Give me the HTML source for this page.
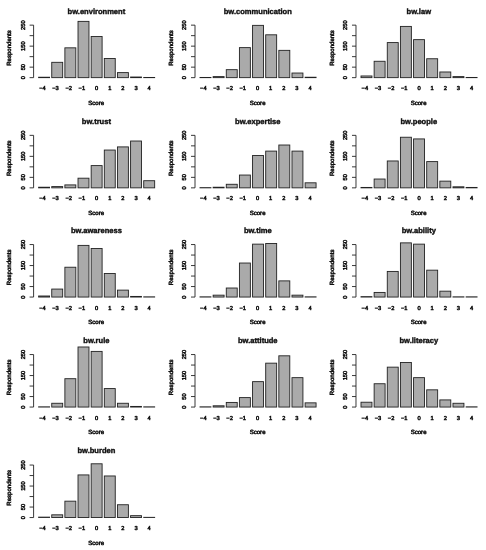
<!DOCTYPE html>
<html><head><meta charset="utf-8"><title>Histograms</title>
<style>html,body{margin:0;padding:0;background:#fff}svg{display:block;filter:blur(0.35px)}text{text-rendering:geometricPrecision;font-family:"Liberation Sans",Arial,Helvetica,sans-serif;fill:#111;stroke:#111;stroke-width:0.5px}text.t{stroke-width:0.4px}</style></head><body>
<svg width="486" height="550" viewBox="0 0 486 550">
<rect width="486" height="550" fill="#ffffff"/>
<g transform="translate(0.00,0.10)">
<text x="96.40" y="14.40" font-size="7.55" class="t" font-weight="bold" text-anchor="middle">bw.environment</text>
<rect x="38.60" y="77.13" width="10.95" height="0.42" fill="#aaaaaa" stroke="#222" stroke-width="0.90"/>
<rect x="51.74" y="62.22" width="10.95" height="15.33" fill="#aaaaaa" stroke="#222" stroke-width="0.90"/>
<rect x="64.88" y="47.73" width="10.95" height="29.82" fill="#aaaaaa" stroke="#222" stroke-width="0.90"/>
<rect x="78.02" y="21.27" width="10.95" height="56.28" fill="#aaaaaa" stroke="#222" stroke-width="0.90"/>
<rect x="91.16" y="36.39" width="10.95" height="41.16" fill="#aaaaaa" stroke="#222" stroke-width="0.90"/>
<rect x="104.30" y="58.44" width="10.95" height="19.11" fill="#aaaaaa" stroke="#222" stroke-width="0.90"/>
<rect x="117.44" y="72.51" width="10.95" height="5.04" fill="#aaaaaa" stroke="#222" stroke-width="0.90"/>
<rect x="130.58" y="76.92" width="10.95" height="0.63" fill="#aaaaaa" stroke="#222" stroke-width="0.90"/>
<rect x="143.72" y="77.34" width="10.95" height="0.21" fill="#aaaaaa" stroke="#222" stroke-width="0.90"/>
<path d="M33.60 77.55V25.05M33.60 77.55h-4.00M33.60 67.05h-4.00M33.60 56.55h-4.00M33.60 46.05h-4.00M33.60 35.55h-4.00M33.60 25.05h-4.00" fill="none" stroke="#222" stroke-width="0.90"/>
<text transform="translate(24.90,77.55) rotate(-90)" font-size="5.70" text-anchor="middle">0</text>
<text transform="translate(24.90,67.05) rotate(-90)" font-size="5.70" text-anchor="middle">50</text>
<text transform="translate(24.90,46.05) rotate(-90)" font-size="5.70" text-anchor="middle">150</text>
<text transform="translate(24.90,25.05) rotate(-90)" font-size="5.70" text-anchor="middle">250</text>
<text transform="translate(11.20,47.90) rotate(-90)" font-size="6.05" text-anchor="middle">Respondents</text>
<text x="45.66" y="90.30" font-size="5.70" text-anchor="end">−4</text>
<text x="58.80" y="90.30" font-size="5.70" text-anchor="end">−3</text>
<text x="71.94" y="90.30" font-size="5.70" text-anchor="end">−2</text>
<text x="85.08" y="90.30" font-size="5.70" text-anchor="end">−1</text>
<text x="96.63" y="90.30" font-size="5.70" text-anchor="middle">0</text>
<text x="109.78" y="90.30" font-size="5.70" text-anchor="middle">1</text>
<text x="122.91" y="90.30" font-size="5.70" text-anchor="middle">2</text>
<text x="136.06" y="90.30" font-size="5.70" text-anchor="middle">3</text>
<text x="149.19" y="90.30" font-size="5.70" text-anchor="middle">4</text>
<text x="96.20" y="105.10" font-size="6.05" text-anchor="middle">Score</text>
</g>
<g transform="translate(161.40,0.10)">
<text x="96.40" y="14.40" font-size="7.55" class="t" font-weight="bold" text-anchor="middle">bw.communication</text>
<rect x="38.60" y="77.34" width="10.95" height="0.21" fill="#aaaaaa" stroke="#222" stroke-width="0.90"/>
<rect x="51.74" y="76.50" width="10.95" height="1.05" fill="#aaaaaa" stroke="#222" stroke-width="0.90"/>
<rect x="64.88" y="69.57" width="10.95" height="7.98" fill="#aaaaaa" stroke="#222" stroke-width="0.90"/>
<rect x="78.02" y="47.52" width="10.95" height="30.03" fill="#aaaaaa" stroke="#222" stroke-width="0.90"/>
<rect x="91.16" y="25.26" width="10.95" height="52.29" fill="#aaaaaa" stroke="#222" stroke-width="0.90"/>
<rect x="104.30" y="34.71" width="10.95" height="42.84" fill="#aaaaaa" stroke="#222" stroke-width="0.90"/>
<rect x="117.44" y="50.25" width="10.95" height="27.30" fill="#aaaaaa" stroke="#222" stroke-width="0.90"/>
<rect x="130.58" y="72.93" width="10.95" height="4.62" fill="#aaaaaa" stroke="#222" stroke-width="0.90"/>
<rect x="143.72" y="77.13" width="10.95" height="0.42" fill="#aaaaaa" stroke="#222" stroke-width="0.90"/>
<path d="M33.60 77.55V25.05M33.60 77.55h-4.00M33.60 67.05h-4.00M33.60 56.55h-4.00M33.60 46.05h-4.00M33.60 35.55h-4.00M33.60 25.05h-4.00" fill="none" stroke="#222" stroke-width="0.90"/>
<text transform="translate(24.90,77.55) rotate(-90)" font-size="5.70" text-anchor="middle">0</text>
<text transform="translate(24.90,67.05) rotate(-90)" font-size="5.70" text-anchor="middle">50</text>
<text transform="translate(24.90,46.05) rotate(-90)" font-size="5.70" text-anchor="middle">150</text>
<text transform="translate(24.90,25.05) rotate(-90)" font-size="5.70" text-anchor="middle">250</text>
<text transform="translate(11.20,47.90) rotate(-90)" font-size="6.05" text-anchor="middle">Respondents</text>
<text x="45.16" y="90.30" font-size="5.70" text-anchor="end">−4</text>
<text x="58.30" y="90.30" font-size="5.70" text-anchor="end">−3</text>
<text x="71.44" y="90.30" font-size="5.70" text-anchor="end">−2</text>
<text x="84.58" y="90.30" font-size="5.70" text-anchor="end">−1</text>
<text x="96.13" y="90.30" font-size="5.70" text-anchor="middle">0</text>
<text x="109.28" y="90.30" font-size="5.70" text-anchor="middle">1</text>
<text x="122.41" y="90.30" font-size="5.70" text-anchor="middle">2</text>
<text x="135.56" y="90.30" font-size="5.70" text-anchor="middle">3</text>
<text x="148.69" y="90.30" font-size="5.70" text-anchor="middle">4</text>
<text x="96.20" y="105.10" font-size="6.05" text-anchor="middle">Score</text>
</g>
<g transform="translate(322.40,0.10)">
<text x="96.40" y="14.40" font-size="7.55" class="t" font-weight="bold" text-anchor="middle">bw.law</text>
<rect x="38.60" y="75.87" width="10.95" height="1.68" fill="#aaaaaa" stroke="#222" stroke-width="0.90"/>
<rect x="51.74" y="61.17" width="10.95" height="16.38" fill="#aaaaaa" stroke="#222" stroke-width="0.90"/>
<rect x="64.88" y="42.48" width="10.95" height="35.07" fill="#aaaaaa" stroke="#222" stroke-width="0.90"/>
<rect x="78.02" y="26.31" width="10.95" height="51.24" fill="#aaaaaa" stroke="#222" stroke-width="0.90"/>
<rect x="91.16" y="39.54" width="10.95" height="38.01" fill="#aaaaaa" stroke="#222" stroke-width="0.90"/>
<rect x="104.30" y="58.65" width="10.95" height="18.90" fill="#aaaaaa" stroke="#222" stroke-width="0.90"/>
<rect x="117.44" y="71.88" width="10.95" height="5.67" fill="#aaaaaa" stroke="#222" stroke-width="0.90"/>
<rect x="130.58" y="76.50" width="10.95" height="1.05" fill="#aaaaaa" stroke="#222" stroke-width="0.90"/>
<rect x="143.72" y="77.34" width="10.95" height="0.21" fill="#aaaaaa" stroke="#222" stroke-width="0.90"/>
<path d="M33.60 77.55V25.05M33.60 77.55h-4.00M33.60 67.05h-4.00M33.60 56.55h-4.00M33.60 46.05h-4.00M33.60 35.55h-4.00M33.60 25.05h-4.00" fill="none" stroke="#222" stroke-width="0.90"/>
<text transform="translate(24.90,77.55) rotate(-90)" font-size="5.70" text-anchor="middle">0</text>
<text transform="translate(24.90,67.05) rotate(-90)" font-size="5.70" text-anchor="middle">50</text>
<text transform="translate(24.90,46.05) rotate(-90)" font-size="5.70" text-anchor="middle">150</text>
<text transform="translate(24.90,25.05) rotate(-90)" font-size="5.70" text-anchor="middle">250</text>
<text transform="translate(11.20,47.90) rotate(-90)" font-size="6.05" text-anchor="middle">Respondents</text>
<text x="45.66" y="90.30" font-size="5.70" text-anchor="end">−4</text>
<text x="58.80" y="90.30" font-size="5.70" text-anchor="end">−3</text>
<text x="71.94" y="90.30" font-size="5.70" text-anchor="end">−2</text>
<text x="85.08" y="90.30" font-size="5.70" text-anchor="end">−1</text>
<text x="96.63" y="90.30" font-size="5.70" text-anchor="middle">0</text>
<text x="109.78" y="90.30" font-size="5.70" text-anchor="middle">1</text>
<text x="122.91" y="90.30" font-size="5.70" text-anchor="middle">2</text>
<text x="136.06" y="90.30" font-size="5.70" text-anchor="middle">3</text>
<text x="149.19" y="90.30" font-size="5.70" text-anchor="middle">4</text>
<text x="96.20" y="105.10" font-size="6.05" text-anchor="middle">Score</text>
</g>
<g transform="translate(0.00,110.30)">
<text x="96.40" y="13.25" font-size="7.55" class="t" font-weight="bold" text-anchor="middle">bw.trust</text>
<rect x="38.60" y="76.92" width="10.95" height="0.63" fill="#aaaaaa" stroke="#222" stroke-width="0.90"/>
<rect x="51.74" y="76.29" width="10.95" height="1.26" fill="#aaaaaa" stroke="#222" stroke-width="0.90"/>
<rect x="64.88" y="74.61" width="10.95" height="2.94" fill="#aaaaaa" stroke="#222" stroke-width="0.90"/>
<rect x="78.02" y="67.89" width="10.95" height="9.66" fill="#aaaaaa" stroke="#222" stroke-width="0.90"/>
<rect x="91.16" y="55.29" width="10.95" height="22.26" fill="#aaaaaa" stroke="#222" stroke-width="0.90"/>
<rect x="104.30" y="39.75" width="10.95" height="37.80" fill="#aaaaaa" stroke="#222" stroke-width="0.90"/>
<rect x="117.44" y="36.60" width="10.95" height="40.95" fill="#aaaaaa" stroke="#222" stroke-width="0.90"/>
<rect x="130.58" y="30.72" width="10.95" height="46.83" fill="#aaaaaa" stroke="#222" stroke-width="0.90"/>
<rect x="143.72" y="70.41" width="10.95" height="7.14" fill="#aaaaaa" stroke="#222" stroke-width="0.90"/>
<path d="M33.60 77.55V25.05M33.60 77.55h-4.00M33.60 67.05h-4.00M33.60 56.55h-4.00M33.60 46.05h-4.00M33.60 35.55h-4.00M33.60 25.05h-4.00" fill="none" stroke="#222" stroke-width="0.90"/>
<text transform="translate(24.90,77.55) rotate(-90)" font-size="5.70" text-anchor="middle">0</text>
<text transform="translate(24.90,67.05) rotate(-90)" font-size="5.70" text-anchor="middle">50</text>
<text transform="translate(24.90,46.05) rotate(-90)" font-size="5.70" text-anchor="middle">150</text>
<text transform="translate(24.90,25.05) rotate(-90)" font-size="5.70" text-anchor="middle">250</text>
<text transform="translate(11.20,47.90) rotate(-90)" font-size="6.05" text-anchor="middle">Respondents</text>
<text x="45.66" y="90.10" font-size="5.70" text-anchor="end">−4</text>
<text x="58.80" y="90.10" font-size="5.70" text-anchor="end">−3</text>
<text x="71.94" y="90.10" font-size="5.70" text-anchor="end">−2</text>
<text x="85.08" y="90.10" font-size="5.70" text-anchor="end">−1</text>
<text x="96.63" y="90.10" font-size="5.70" text-anchor="middle">0</text>
<text x="109.78" y="90.10" font-size="5.70" text-anchor="middle">1</text>
<text x="122.91" y="90.10" font-size="5.70" text-anchor="middle">2</text>
<text x="136.06" y="90.10" font-size="5.70" text-anchor="middle">3</text>
<text x="149.19" y="90.10" font-size="5.70" text-anchor="middle">4</text>
<text x="96.20" y="104.30" font-size="6.05" text-anchor="middle">Score</text>
</g>
<g transform="translate(161.40,110.30)">
<text x="96.40" y="13.25" font-size="7.55" class="t" font-weight="bold" text-anchor="middle">bw.expertise</text>
<rect x="38.60" y="77.34" width="10.95" height="0.21" fill="#aaaaaa" stroke="#222" stroke-width="0.90"/>
<rect x="51.74" y="76.92" width="10.95" height="0.63" fill="#aaaaaa" stroke="#222" stroke-width="0.90"/>
<rect x="64.88" y="73.98" width="10.95" height="3.57" fill="#aaaaaa" stroke="#222" stroke-width="0.90"/>
<rect x="78.02" y="64.74" width="10.95" height="12.81" fill="#aaaaaa" stroke="#222" stroke-width="0.90"/>
<rect x="91.16" y="45.21" width="10.95" height="32.34" fill="#aaaaaa" stroke="#222" stroke-width="0.90"/>
<rect x="104.30" y="40.80" width="10.95" height="36.75" fill="#aaaaaa" stroke="#222" stroke-width="0.90"/>
<rect x="117.44" y="34.71" width="10.95" height="42.84" fill="#aaaaaa" stroke="#222" stroke-width="0.90"/>
<rect x="130.58" y="40.80" width="10.95" height="36.75" fill="#aaaaaa" stroke="#222" stroke-width="0.90"/>
<rect x="143.72" y="72.51" width="10.95" height="5.04" fill="#aaaaaa" stroke="#222" stroke-width="0.90"/>
<path d="M33.60 77.55V25.05M33.60 77.55h-4.00M33.60 67.05h-4.00M33.60 56.55h-4.00M33.60 46.05h-4.00M33.60 35.55h-4.00M33.60 25.05h-4.00" fill="none" stroke="#222" stroke-width="0.90"/>
<text transform="translate(24.90,77.55) rotate(-90)" font-size="5.70" text-anchor="middle">0</text>
<text transform="translate(24.90,67.05) rotate(-90)" font-size="5.70" text-anchor="middle">50</text>
<text transform="translate(24.90,46.05) rotate(-90)" font-size="5.70" text-anchor="middle">150</text>
<text transform="translate(24.90,25.05) rotate(-90)" font-size="5.70" text-anchor="middle">250</text>
<text transform="translate(11.20,47.90) rotate(-90)" font-size="6.05" text-anchor="middle">Respondents</text>
<text x="45.16" y="90.10" font-size="5.70" text-anchor="end">−4</text>
<text x="58.30" y="90.10" font-size="5.70" text-anchor="end">−3</text>
<text x="71.44" y="90.10" font-size="5.70" text-anchor="end">−2</text>
<text x="84.58" y="90.10" font-size="5.70" text-anchor="end">−1</text>
<text x="96.13" y="90.10" font-size="5.70" text-anchor="middle">0</text>
<text x="109.28" y="90.10" font-size="5.70" text-anchor="middle">1</text>
<text x="122.41" y="90.10" font-size="5.70" text-anchor="middle">2</text>
<text x="135.56" y="90.10" font-size="5.70" text-anchor="middle">3</text>
<text x="148.69" y="90.10" font-size="5.70" text-anchor="middle">4</text>
<text x="96.20" y="104.30" font-size="6.05" text-anchor="middle">Score</text>
</g>
<g transform="translate(322.40,110.30)">
<text x="96.40" y="13.25" font-size="7.55" class="t" font-weight="bold" text-anchor="middle">bw.people</text>
<rect x="38.60" y="77.13" width="10.95" height="0.42" fill="#aaaaaa" stroke="#222" stroke-width="0.90"/>
<rect x="51.74" y="68.73" width="10.95" height="8.82" fill="#aaaaaa" stroke="#222" stroke-width="0.90"/>
<rect x="64.88" y="50.67" width="10.95" height="26.88" fill="#aaaaaa" stroke="#222" stroke-width="0.90"/>
<rect x="78.02" y="26.94" width="10.95" height="50.61" fill="#aaaaaa" stroke="#222" stroke-width="0.90"/>
<rect x="91.16" y="28.62" width="10.95" height="48.93" fill="#aaaaaa" stroke="#222" stroke-width="0.90"/>
<rect x="104.30" y="51.30" width="10.95" height="26.25" fill="#aaaaaa" stroke="#222" stroke-width="0.90"/>
<rect x="117.44" y="70.83" width="10.95" height="6.72" fill="#aaaaaa" stroke="#222" stroke-width="0.90"/>
<rect x="130.58" y="76.50" width="10.95" height="1.05" fill="#aaaaaa" stroke="#222" stroke-width="0.90"/>
<rect x="143.72" y="77.13" width="10.95" height="0.42" fill="#aaaaaa" stroke="#222" stroke-width="0.90"/>
<path d="M33.60 77.55V25.05M33.60 77.55h-4.00M33.60 67.05h-4.00M33.60 56.55h-4.00M33.60 46.05h-4.00M33.60 35.55h-4.00M33.60 25.05h-4.00" fill="none" stroke="#222" stroke-width="0.90"/>
<text transform="translate(24.90,77.55) rotate(-90)" font-size="5.70" text-anchor="middle">0</text>
<text transform="translate(24.90,67.05) rotate(-90)" font-size="5.70" text-anchor="middle">50</text>
<text transform="translate(24.90,46.05) rotate(-90)" font-size="5.70" text-anchor="middle">150</text>
<text transform="translate(24.90,25.05) rotate(-90)" font-size="5.70" text-anchor="middle">250</text>
<text transform="translate(11.20,47.90) rotate(-90)" font-size="6.05" text-anchor="middle">Respondents</text>
<text x="45.66" y="90.10" font-size="5.70" text-anchor="end">−4</text>
<text x="58.80" y="90.10" font-size="5.70" text-anchor="end">−3</text>
<text x="71.94" y="90.10" font-size="5.70" text-anchor="end">−2</text>
<text x="85.08" y="90.10" font-size="5.70" text-anchor="end">−1</text>
<text x="96.63" y="90.10" font-size="5.70" text-anchor="middle">0</text>
<text x="109.78" y="90.10" font-size="5.70" text-anchor="middle">1</text>
<text x="122.91" y="90.10" font-size="5.70" text-anchor="middle">2</text>
<text x="136.06" y="90.10" font-size="5.70" text-anchor="middle">3</text>
<text x="149.19" y="90.10" font-size="5.70" text-anchor="middle">4</text>
<text x="96.20" y="104.30" font-size="6.05" text-anchor="middle">Score</text>
</g>
<g transform="translate(0.00,219.50)">
<text x="96.40" y="13.70" font-size="7.55" class="t" font-weight="bold" text-anchor="middle">bw.awareness</text>
<rect x="38.60" y="76.50" width="10.95" height="1.05" fill="#aaaaaa" stroke="#222" stroke-width="0.90"/>
<rect x="51.74" y="69.57" width="10.95" height="7.98" fill="#aaaaaa" stroke="#222" stroke-width="0.90"/>
<rect x="64.88" y="47.73" width="10.95" height="29.82" fill="#aaaaaa" stroke="#222" stroke-width="0.90"/>
<rect x="78.02" y="25.89" width="10.95" height="51.66" fill="#aaaaaa" stroke="#222" stroke-width="0.90"/>
<rect x="91.16" y="29.04" width="10.95" height="48.51" fill="#aaaaaa" stroke="#222" stroke-width="0.90"/>
<rect x="104.30" y="54.03" width="10.95" height="23.52" fill="#aaaaaa" stroke="#222" stroke-width="0.90"/>
<rect x="117.44" y="70.62" width="10.95" height="6.93" fill="#aaaaaa" stroke="#222" stroke-width="0.90"/>
<rect x="130.58" y="76.92" width="10.95" height="0.63" fill="#aaaaaa" stroke="#222" stroke-width="0.90"/>
<rect x="143.72" y="77.34" width="10.95" height="0.21" fill="#aaaaaa" stroke="#222" stroke-width="0.90"/>
<path d="M33.60 77.55V25.05M33.60 77.55h-4.00M33.60 67.05h-4.00M33.60 56.55h-4.00M33.60 46.05h-4.00M33.60 35.55h-4.00M33.60 25.05h-4.00" fill="none" stroke="#222" stroke-width="0.90"/>
<text transform="translate(24.90,77.55) rotate(-90)" font-size="5.70" text-anchor="middle">0</text>
<text transform="translate(24.90,67.05) rotate(-90)" font-size="5.70" text-anchor="middle">50</text>
<text transform="translate(24.90,46.05) rotate(-90)" font-size="5.70" text-anchor="middle">150</text>
<text transform="translate(24.90,25.05) rotate(-90)" font-size="5.70" text-anchor="middle">250</text>
<text transform="translate(11.20,47.90) rotate(-90)" font-size="6.05" text-anchor="middle">Respondents</text>
<text x="45.66" y="90.60" font-size="5.70" text-anchor="end">−4</text>
<text x="58.80" y="90.60" font-size="5.70" text-anchor="end">−3</text>
<text x="71.94" y="90.60" font-size="5.70" text-anchor="end">−2</text>
<text x="85.08" y="90.60" font-size="5.70" text-anchor="end">−1</text>
<text x="96.63" y="90.60" font-size="5.70" text-anchor="middle">0</text>
<text x="109.78" y="90.60" font-size="5.70" text-anchor="middle">1</text>
<text x="122.91" y="90.60" font-size="5.70" text-anchor="middle">2</text>
<text x="136.06" y="90.60" font-size="5.70" text-anchor="middle">3</text>
<text x="149.19" y="90.60" font-size="5.70" text-anchor="middle">4</text>
<text x="96.20" y="104.50" font-size="6.05" text-anchor="middle">Score</text>
</g>
<g transform="translate(161.40,219.50)">
<text x="96.40" y="13.70" font-size="7.55" class="t" font-weight="bold" text-anchor="middle">bw.time</text>
<rect x="38.60" y="77.34" width="10.95" height="0.21" fill="#aaaaaa" stroke="#222" stroke-width="0.90"/>
<rect x="51.74" y="75.66" width="10.95" height="1.89" fill="#aaaaaa" stroke="#222" stroke-width="0.90"/>
<rect x="64.88" y="68.52" width="10.95" height="9.03" fill="#aaaaaa" stroke="#222" stroke-width="0.90"/>
<rect x="78.02" y="43.53" width="10.95" height="34.02" fill="#aaaaaa" stroke="#222" stroke-width="0.90"/>
<rect x="91.16" y="24.63" width="10.95" height="52.92" fill="#aaaaaa" stroke="#222" stroke-width="0.90"/>
<rect x="104.30" y="24.00" width="10.95" height="53.55" fill="#aaaaaa" stroke="#222" stroke-width="0.90"/>
<rect x="117.44" y="61.38" width="10.95" height="16.17" fill="#aaaaaa" stroke="#222" stroke-width="0.90"/>
<rect x="130.58" y="75.66" width="10.95" height="1.89" fill="#aaaaaa" stroke="#222" stroke-width="0.90"/>
<rect x="143.72" y="77.34" width="10.95" height="0.21" fill="#aaaaaa" stroke="#222" stroke-width="0.90"/>
<path d="M33.60 77.55V25.05M33.60 77.55h-4.00M33.60 67.05h-4.00M33.60 56.55h-4.00M33.60 46.05h-4.00M33.60 35.55h-4.00M33.60 25.05h-4.00" fill="none" stroke="#222" stroke-width="0.90"/>
<text transform="translate(24.90,77.55) rotate(-90)" font-size="5.70" text-anchor="middle">0</text>
<text transform="translate(24.90,67.05) rotate(-90)" font-size="5.70" text-anchor="middle">50</text>
<text transform="translate(24.90,46.05) rotate(-90)" font-size="5.70" text-anchor="middle">150</text>
<text transform="translate(24.90,25.05) rotate(-90)" font-size="5.70" text-anchor="middle">250</text>
<text transform="translate(11.20,47.90) rotate(-90)" font-size="6.05" text-anchor="middle">Respondents</text>
<text x="45.16" y="90.60" font-size="5.70" text-anchor="end">−4</text>
<text x="58.30" y="90.60" font-size="5.70" text-anchor="end">−3</text>
<text x="71.44" y="90.60" font-size="5.70" text-anchor="end">−2</text>
<text x="84.58" y="90.60" font-size="5.70" text-anchor="end">−1</text>
<text x="96.13" y="90.60" font-size="5.70" text-anchor="middle">0</text>
<text x="109.28" y="90.60" font-size="5.70" text-anchor="middle">1</text>
<text x="122.41" y="90.60" font-size="5.70" text-anchor="middle">2</text>
<text x="135.56" y="90.60" font-size="5.70" text-anchor="middle">3</text>
<text x="148.69" y="90.60" font-size="5.70" text-anchor="middle">4</text>
<text x="96.20" y="104.50" font-size="6.05" text-anchor="middle">Score</text>
</g>
<g transform="translate(322.40,219.50)">
<text x="96.40" y="13.70" font-size="7.55" class="t" font-weight="bold" text-anchor="middle">bw.ability</text>
<rect x="38.60" y="77.13" width="10.95" height="0.42" fill="#aaaaaa" stroke="#222" stroke-width="0.90"/>
<rect x="51.74" y="72.93" width="10.95" height="4.62" fill="#aaaaaa" stroke="#222" stroke-width="0.90"/>
<rect x="64.88" y="51.93" width="10.95" height="25.62" fill="#aaaaaa" stroke="#222" stroke-width="0.90"/>
<rect x="78.02" y="23.37" width="10.95" height="54.18" fill="#aaaaaa" stroke="#222" stroke-width="0.90"/>
<rect x="91.16" y="24.63" width="10.95" height="52.92" fill="#aaaaaa" stroke="#222" stroke-width="0.90"/>
<rect x="104.30" y="50.67" width="10.95" height="26.88" fill="#aaaaaa" stroke="#222" stroke-width="0.90"/>
<rect x="117.44" y="71.67" width="10.95" height="5.88" fill="#aaaaaa" stroke="#222" stroke-width="0.90"/>
<rect x="130.58" y="77.34" width="10.95" height="0.21" fill="#aaaaaa" stroke="#222" stroke-width="0.90"/>
<rect x="143.72" y="77.34" width="10.95" height="0.21" fill="#aaaaaa" stroke="#222" stroke-width="0.90"/>
<path d="M33.60 77.55V25.05M33.60 77.55h-4.00M33.60 67.05h-4.00M33.60 56.55h-4.00M33.60 46.05h-4.00M33.60 35.55h-4.00M33.60 25.05h-4.00" fill="none" stroke="#222" stroke-width="0.90"/>
<text transform="translate(24.90,77.55) rotate(-90)" font-size="5.70" text-anchor="middle">0</text>
<text transform="translate(24.90,67.05) rotate(-90)" font-size="5.70" text-anchor="middle">50</text>
<text transform="translate(24.90,46.05) rotate(-90)" font-size="5.70" text-anchor="middle">150</text>
<text transform="translate(24.90,25.05) rotate(-90)" font-size="5.70" text-anchor="middle">250</text>
<text transform="translate(11.20,47.90) rotate(-90)" font-size="6.05" text-anchor="middle">Respondents</text>
<text x="45.66" y="90.60" font-size="5.70" text-anchor="end">−4</text>
<text x="58.80" y="90.60" font-size="5.70" text-anchor="end">−3</text>
<text x="71.94" y="90.60" font-size="5.70" text-anchor="end">−2</text>
<text x="85.08" y="90.60" font-size="5.70" text-anchor="end">−1</text>
<text x="96.63" y="90.60" font-size="5.70" text-anchor="middle">0</text>
<text x="109.78" y="90.60" font-size="5.70" text-anchor="middle">1</text>
<text x="122.91" y="90.60" font-size="5.70" text-anchor="middle">2</text>
<text x="136.06" y="90.60" font-size="5.70" text-anchor="middle">3</text>
<text x="149.19" y="90.60" font-size="5.70" text-anchor="middle">4</text>
<text x="96.20" y="104.50" font-size="6.05" text-anchor="middle">Score</text>
</g>
<g transform="translate(0.00,329.50)">
<text x="96.40" y="13.90" font-size="7.55" class="t" font-weight="bold" text-anchor="middle">bw.rule</text>
<rect x="38.60" y="77.34" width="10.95" height="0.21" fill="#aaaaaa" stroke="#222" stroke-width="0.90"/>
<rect x="51.74" y="73.77" width="10.95" height="3.78" fill="#aaaaaa" stroke="#222" stroke-width="0.90"/>
<rect x="64.88" y="49.20" width="10.95" height="28.35" fill="#aaaaaa" stroke="#222" stroke-width="0.90"/>
<rect x="78.02" y="17.49" width="10.95" height="60.06" fill="#aaaaaa" stroke="#222" stroke-width="0.90"/>
<rect x="91.16" y="21.90" width="10.95" height="55.65" fill="#aaaaaa" stroke="#222" stroke-width="0.90"/>
<rect x="104.30" y="59.07" width="10.95" height="18.48" fill="#aaaaaa" stroke="#222" stroke-width="0.90"/>
<rect x="117.44" y="73.77" width="10.95" height="3.78" fill="#aaaaaa" stroke="#222" stroke-width="0.90"/>
<rect x="130.58" y="76.92" width="10.95" height="0.63" fill="#aaaaaa" stroke="#222" stroke-width="0.90"/>
<rect x="143.72" y="77.34" width="10.95" height="0.21" fill="#aaaaaa" stroke="#222" stroke-width="0.90"/>
<path d="M33.60 77.55V25.05M33.60 77.55h-4.00M33.60 67.05h-4.00M33.60 56.55h-4.00M33.60 46.05h-4.00M33.60 35.55h-4.00M33.60 25.05h-4.00" fill="none" stroke="#222" stroke-width="0.90"/>
<text transform="translate(24.90,77.55) rotate(-90)" font-size="5.70" text-anchor="middle">0</text>
<text transform="translate(24.90,67.05) rotate(-90)" font-size="5.70" text-anchor="middle">50</text>
<text transform="translate(24.90,46.05) rotate(-90)" font-size="5.70" text-anchor="middle">150</text>
<text transform="translate(24.90,25.05) rotate(-90)" font-size="5.70" text-anchor="middle">250</text>
<text transform="translate(11.20,47.90) rotate(-90)" font-size="6.05" text-anchor="middle">Respondents</text>
<text x="45.66" y="90.75" font-size="5.70" text-anchor="end">−4</text>
<text x="58.80" y="90.75" font-size="5.70" text-anchor="end">−3</text>
<text x="71.94" y="90.75" font-size="5.70" text-anchor="end">−2</text>
<text x="85.08" y="90.75" font-size="5.70" text-anchor="end">−1</text>
<text x="96.63" y="90.75" font-size="5.70" text-anchor="middle">0</text>
<text x="109.78" y="90.75" font-size="5.70" text-anchor="middle">1</text>
<text x="122.91" y="90.75" font-size="5.70" text-anchor="middle">2</text>
<text x="136.06" y="90.75" font-size="5.70" text-anchor="middle">3</text>
<text x="149.19" y="90.75" font-size="5.70" text-anchor="middle">4</text>
<text x="96.20" y="104.85" font-size="6.05" text-anchor="middle">Score</text>
</g>
<g transform="translate(161.40,329.50)">
<text x="96.40" y="13.90" font-size="7.55" class="t" font-weight="bold" text-anchor="middle">bw.attitude</text>
<rect x="38.60" y="77.34" width="10.95" height="0.21" fill="#aaaaaa" stroke="#222" stroke-width="0.90"/>
<rect x="51.74" y="76.29" width="10.95" height="1.26" fill="#aaaaaa" stroke="#222" stroke-width="0.90"/>
<rect x="64.88" y="72.93" width="10.95" height="4.62" fill="#aaaaaa" stroke="#222" stroke-width="0.90"/>
<rect x="78.02" y="68.10" width="10.95" height="9.45" fill="#aaaaaa" stroke="#222" stroke-width="0.90"/>
<rect x="91.16" y="52.14" width="10.95" height="25.41" fill="#aaaaaa" stroke="#222" stroke-width="0.90"/>
<rect x="104.30" y="33.66" width="10.95" height="43.89" fill="#aaaaaa" stroke="#222" stroke-width="0.90"/>
<rect x="117.44" y="26.31" width="10.95" height="51.24" fill="#aaaaaa" stroke="#222" stroke-width="0.90"/>
<rect x="130.58" y="48.15" width="10.95" height="29.40" fill="#aaaaaa" stroke="#222" stroke-width="0.90"/>
<rect x="143.72" y="73.35" width="10.95" height="4.20" fill="#aaaaaa" stroke="#222" stroke-width="0.90"/>
<path d="M33.60 77.55V25.05M33.60 77.55h-4.00M33.60 67.05h-4.00M33.60 56.55h-4.00M33.60 46.05h-4.00M33.60 35.55h-4.00M33.60 25.05h-4.00" fill="none" stroke="#222" stroke-width="0.90"/>
<text transform="translate(24.90,77.55) rotate(-90)" font-size="5.70" text-anchor="middle">0</text>
<text transform="translate(24.90,67.05) rotate(-90)" font-size="5.70" text-anchor="middle">50</text>
<text transform="translate(24.90,46.05) rotate(-90)" font-size="5.70" text-anchor="middle">150</text>
<text transform="translate(24.90,25.05) rotate(-90)" font-size="5.70" text-anchor="middle">250</text>
<text transform="translate(11.20,47.90) rotate(-90)" font-size="6.05" text-anchor="middle">Respondents</text>
<text x="45.16" y="90.75" font-size="5.70" text-anchor="end">−4</text>
<text x="58.30" y="90.75" font-size="5.70" text-anchor="end">−3</text>
<text x="71.44" y="90.75" font-size="5.70" text-anchor="end">−2</text>
<text x="84.58" y="90.75" font-size="5.70" text-anchor="end">−1</text>
<text x="96.13" y="90.75" font-size="5.70" text-anchor="middle">0</text>
<text x="109.28" y="90.75" font-size="5.70" text-anchor="middle">1</text>
<text x="122.41" y="90.75" font-size="5.70" text-anchor="middle">2</text>
<text x="135.56" y="90.75" font-size="5.70" text-anchor="middle">3</text>
<text x="148.69" y="90.75" font-size="5.70" text-anchor="middle">4</text>
<text x="96.20" y="104.85" font-size="6.05" text-anchor="middle">Score</text>
</g>
<g transform="translate(322.40,329.50)">
<text x="96.40" y="13.90" font-size="7.55" class="t" font-weight="bold" text-anchor="middle">bw.literacy</text>
<rect x="38.60" y="72.72" width="10.95" height="4.83" fill="#aaaaaa" stroke="#222" stroke-width="0.90"/>
<rect x="51.74" y="54.24" width="10.95" height="23.31" fill="#aaaaaa" stroke="#222" stroke-width="0.90"/>
<rect x="64.88" y="37.65" width="10.95" height="39.90" fill="#aaaaaa" stroke="#222" stroke-width="0.90"/>
<rect x="78.02" y="33.03" width="10.95" height="44.52" fill="#aaaaaa" stroke="#222" stroke-width="0.90"/>
<rect x="91.16" y="48.15" width="10.95" height="29.40" fill="#aaaaaa" stroke="#222" stroke-width="0.90"/>
<rect x="104.30" y="60.33" width="10.95" height="17.22" fill="#aaaaaa" stroke="#222" stroke-width="0.90"/>
<rect x="117.44" y="70.41" width="10.95" height="7.14" fill="#aaaaaa" stroke="#222" stroke-width="0.90"/>
<rect x="130.58" y="73.77" width="10.95" height="3.78" fill="#aaaaaa" stroke="#222" stroke-width="0.90"/>
<rect x="143.72" y="77.34" width="10.95" height="0.21" fill="#aaaaaa" stroke="#222" stroke-width="0.90"/>
<path d="M33.60 77.55V25.05M33.60 77.55h-4.00M33.60 67.05h-4.00M33.60 56.55h-4.00M33.60 46.05h-4.00M33.60 35.55h-4.00M33.60 25.05h-4.00" fill="none" stroke="#222" stroke-width="0.90"/>
<text transform="translate(24.90,77.55) rotate(-90)" font-size="5.70" text-anchor="middle">0</text>
<text transform="translate(24.90,67.05) rotate(-90)" font-size="5.70" text-anchor="middle">50</text>
<text transform="translate(24.90,46.05) rotate(-90)" font-size="5.70" text-anchor="middle">150</text>
<text transform="translate(24.90,25.05) rotate(-90)" font-size="5.70" text-anchor="middle">250</text>
<text transform="translate(11.20,47.90) rotate(-90)" font-size="6.05" text-anchor="middle">Respondents</text>
<text x="45.66" y="90.75" font-size="5.70" text-anchor="end">−4</text>
<text x="58.80" y="90.75" font-size="5.70" text-anchor="end">−3</text>
<text x="71.94" y="90.75" font-size="5.70" text-anchor="end">−2</text>
<text x="85.08" y="90.75" font-size="5.70" text-anchor="end">−1</text>
<text x="96.63" y="90.75" font-size="5.70" text-anchor="middle">0</text>
<text x="109.78" y="90.75" font-size="5.70" text-anchor="middle">1</text>
<text x="122.91" y="90.75" font-size="5.70" text-anchor="middle">2</text>
<text x="136.06" y="90.75" font-size="5.70" text-anchor="middle">3</text>
<text x="149.19" y="90.75" font-size="5.70" text-anchor="middle">4</text>
<text x="96.20" y="104.85" font-size="6.05" text-anchor="middle">Score</text>
</g>
<g transform="translate(0.00,440.00)">
<text x="96.40" y="13.05" font-size="7.55" class="t" font-weight="bold" text-anchor="middle">bw.burden</text>
<rect x="38.60" y="77.13" width="10.95" height="0.42" fill="#aaaaaa" stroke="#222" stroke-width="0.90"/>
<rect x="51.74" y="74.82" width="10.95" height="2.73" fill="#aaaaaa" stroke="#222" stroke-width="0.90"/>
<rect x="64.88" y="61.17" width="10.95" height="16.38" fill="#aaaaaa" stroke="#222" stroke-width="0.90"/>
<rect x="78.02" y="34.92" width="10.95" height="42.63" fill="#aaaaaa" stroke="#222" stroke-width="0.90"/>
<rect x="91.16" y="23.79" width="10.95" height="53.76" fill="#aaaaaa" stroke="#222" stroke-width="0.90"/>
<rect x="104.30" y="35.97" width="10.95" height="41.58" fill="#aaaaaa" stroke="#222" stroke-width="0.90"/>
<rect x="117.44" y="64.74" width="10.95" height="12.81" fill="#aaaaaa" stroke="#222" stroke-width="0.90"/>
<rect x="130.58" y="75.66" width="10.95" height="1.89" fill="#aaaaaa" stroke="#222" stroke-width="0.90"/>
<rect x="143.72" y="77.34" width="10.95" height="0.21" fill="#aaaaaa" stroke="#222" stroke-width="0.90"/>
<path d="M33.60 77.55V25.05M33.60 77.55h-4.00M33.60 67.05h-4.00M33.60 56.55h-4.00M33.60 46.05h-4.00M33.60 35.55h-4.00M33.60 25.05h-4.00" fill="none" stroke="#222" stroke-width="0.90"/>
<text transform="translate(24.90,77.55) rotate(-90)" font-size="5.70" text-anchor="middle">0</text>
<text transform="translate(24.90,67.05) rotate(-90)" font-size="5.70" text-anchor="middle">50</text>
<text transform="translate(24.90,46.05) rotate(-90)" font-size="5.70" text-anchor="middle">150</text>
<text transform="translate(24.90,25.05) rotate(-90)" font-size="5.70" text-anchor="middle">250</text>
<text transform="translate(11.20,47.90) rotate(-90)" font-size="6.05" text-anchor="middle">Respondents</text>
<text x="45.66" y="90.40" font-size="5.70" text-anchor="end">−4</text>
<text x="58.80" y="90.40" font-size="5.70" text-anchor="end">−3</text>
<text x="71.94" y="90.40" font-size="5.70" text-anchor="end">−2</text>
<text x="85.08" y="90.40" font-size="5.70" text-anchor="end">−1</text>
<text x="96.63" y="90.40" font-size="5.70" text-anchor="middle">0</text>
<text x="109.78" y="90.40" font-size="5.70" text-anchor="middle">1</text>
<text x="122.91" y="90.40" font-size="5.70" text-anchor="middle">2</text>
<text x="136.06" y="90.40" font-size="5.70" text-anchor="middle">3</text>
<text x="149.19" y="90.40" font-size="5.70" text-anchor="middle">4</text>
<text x="96.20" y="104.60" font-size="6.05" text-anchor="middle">Score</text>
</g>
</svg></body></html>
